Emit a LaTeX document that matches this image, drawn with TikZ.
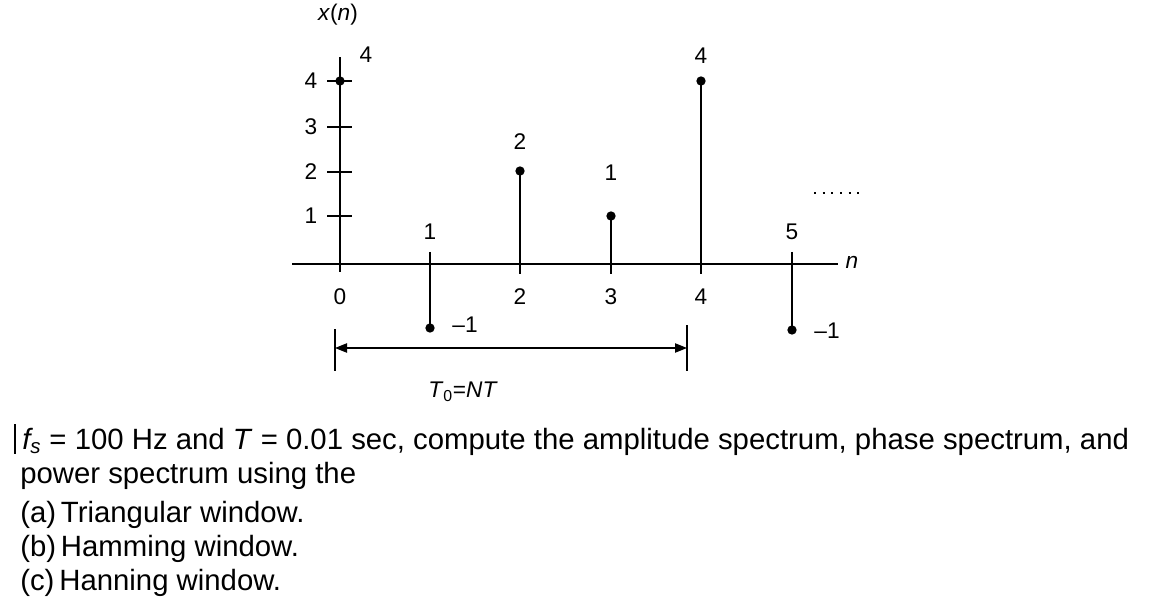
\documentclass[tikz,border=0pt]{standalone}
\usepackage{fontspec}
\setmainfont{Liberation Sans}
\usetikzlibrary{arrows.meta}
\begin{document}
\begin{tikzpicture}[x=0.75pt,y=-0.75pt,
  lab/.style={font=\fontsize{17}{20}\selectfont,inner sep=0pt},
  txt/.style={font=\fontsize{22}{26}\selectfont,inner sep=0pt,anchor=base west},
  stem/.style={line width=1pt},
  dotm/.style={circle,fill=black,inner sep=0pt,minimum size=7pt}]
\useasboundingbox (0,0) rectangle (1161,613);
% axes
\draw[line width=0.9pt] (292,264) -- (838,264);
\node[lab,font=\itshape\fontsize{17}{20}\selectfont] (nl) at (852,262) {n};
\draw[line width=2pt] (340,272) -- (340,57);
\node[lab,font=\fontsize{17}{20}\selectfont] (xn) at (338,15) {\textit{x}(\textit{n})};
\foreach \v/\y in {1/216,2/172,3/127,4/81}{
  \draw[line width=0.9pt] (327,\y) -- (352,\y);
  \node[lab] (yl\v) at (311,\y) {\v};
}
\node[dotm] (d0) at (340,81) {};
\node[lab] (v0) at (366,55) {4};
\node[lab] (a0) at (340,297) {0};
% n=1
\draw[stem] (430,252) -- (430,328);
\node[dotm] (d1) at (430,328) {};
\node[lab] (v1) at (430,232) {1};
\node[lab] (w1) at (465,325) {\char"2013 1};
% n=2
\draw[stem] (520,274) -- (520,171);
\node[dotm] (d2) at (520,171) {};
\node[lab] (v2) at (520,142) {2};
\node[lab] (a2) at (520,297) {2};
% n=3
\draw[stem] (611,274) -- (611,216);
\node[dotm] (d3) at (611,216) {};
\node[lab] (v3) at (611,173) {1};
\node[lab] (a3) at (611,297) {3};
% n=4
\draw[stem] (701,274) -- (701,81);
\node[dotm] (d4) at (701,81) {};
\node[lab] (v4) at (701,56) {4};
\node[lab] (a4) at (701,297) {4};
% n=5
\draw[stem] (792,252) -- (792,330);
\node[dotm] (d5) at (792,330) {};
\node[lab] (v5) at (792,232) {5};
\node[lab] (w5) at (827,331) {\char"2013 1};
% dots
\draw[line width=0.8pt,dash pattern=on 1.5pt off 5pt] (814,193) -- (862,193);
% period arrow
\coordinate (pL) at (335,348);
\coordinate (pR) at (687,348);
\draw[line width=0.9pt] (335,329) -- (335,371);
\draw[line width=0.9pt] (687,325) -- (687,371);
\draw[line width=0.9pt,{Triangle[length=9pt,width=7pt]}-{Triangle[length=9pt,width=7pt]}] (pL) -- (pR);
\node[lab] (T0) at (463,392) {\textit{T}\textsubscript{0}=\textit{NT}};
% text
\draw[line width=0.8pt] (15,424) -- (15,454);
\node[txt] (l1) at (22,449) {\textit{f\textsubscript{s}} = 100 Hz and \textit{T} = 0.01 sec, compute the amplitude spectrum, phase spectrum, and};
\node[txt] (l2) at (20,483) {power spectrum using the};
\node[txt] (l3) at (20,522) {(a)\,Triangular window.};
\node[txt] (l4) at (20,556) {(b)\,Hamming window.};
\node[txt] (l5) at (20,590) {(c)\,Hanning window.};
\end{tikzpicture}
\end{document}
